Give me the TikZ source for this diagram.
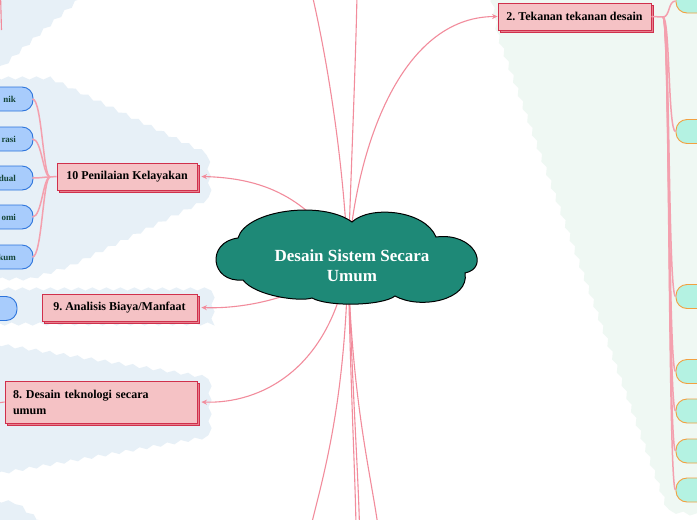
\documentclass[tikz,border=0pt]{standalone}
\usepackage{fontspec}
\setmainfont{Liberation Serif}
\usetikzlibrary{arrows.meta,decorations.pathmorphing,shadows}
\definecolor{bgblue}{HTML}{E7F0F7}
\definecolor{bggreen}{HTML}{EFF8F3}
\definecolor{linkpink}{HTML}{F28C9C}
\definecolor{branchpink}{HTML}{F4A0AE}
\definecolor{boxfill}{HTML}{F5C2C5}
\definecolor{boxdraw}{HTML}{D0304C}
\definecolor{boxshadow}{HTML}{E6808E}
\definecolor{cloudfill}{HTML}{1E8977}
\definecolor{pillblue}{HTML}{A8CCFC}
\definecolor{pillbluedraw}{HTML}{2C74DC}
\definecolor{pillteal}{HTML}{B4F2E2}
\definecolor{pilltealdraw}{HTML}{F2A040}
\definecolor{pilltext}{HTML}{16463A}
\tikzset{
  wavy/.style={decorate, decoration={snake, amplitude=1.6pt, segment length=14pt}},
  topicbox/.style={draw=boxdraw, fill=boxfill, line width=0.9pt,
    font=\fontsize{12}{16}\selectfont\bfseries\frenchspacing, text=black, inner sep=0pt,
    general shadow={fill=boxshadow, draw=boxdraw, shadow xshift=2.5pt, shadow yshift=-2.5pt}},
  bluepill/.style={draw=pillbluedraw, fill=pillblue, line width=0.9pt, rounded corners=11pt,
    minimum height=24pt, font=\fontsize{9}{11}\selectfont\bfseries, text=pilltext},
  tealpill/.style={draw=pilltealdraw, fill=pillteal, line width=0.9pt, rounded corners=11pt,
    minimum height=24pt, minimum width=64pt},
  link/.style={draw=linkpink, line width=1.1pt},
  arrowlink/.style={link, -{Stealth[length=5.5pt,width=5pt]}},
  branch/.style={draw=branchpink, line width=1.5pt},
}
\frenchspacing
\begin{document}
\begin{tikzpicture}[x=1pt,y=-1pt]
\useasboundingbox (0,0) rectangle (697,520);
\clip (0,0) rectangle (697,520);
\fill[white] (0,0) rectangle (697,520);

% background regions
\fill[bgblue, wavy] (-10,-10) -- (82,-10) -- (0,62) -- (-10,62) -- cycle;
\fill[bgblue, wavy] (-10,78) -- (45,78) -- (205,155) -- (207,198) -- (67,266) -- (30,278) -- (-10,278) -- cycle;
\fill[bgblue, wavy] (-10,289) -- (205,289) -- (205,328) -- (-10,328) -- cycle;
\fill[bgblue, wavy] (-10,343) -- (205,377) -- (205,432) -- (0,468) -- (-10,468) -- cycle;
\fill[bgblue, wavy] (-10,500) -- (10,502) -- (40,525) -- (-10,525) -- cycle;
\fill[bggreen, wavy] (490,-10) -- (497,30) -- (667,505) -- (710,510) -- (710,-10) -- cycle;

% main topic boxes
\node[topicbox, minimum width=153pt, minimum height=27pt] (n2) at (574.5,16.5) {2. Tekanan tekanan desain};
\node[topicbox, minimum width=140pt, minimum height=27pt] (n10) at (127,176.5) {10 Penilaian Kelayakan};
\node[topicbox, minimum width=155pt, minimum height=27pt] (n9) at (119.5,307.5) {9. Analisis Biaya/Manfaat};
\node[topicbox, minimum height=42pt, text width=176pt, inner xsep=8pt, align=left] (n8) at (101,402) {8. Desain teknologi secara\\umum};

% left pills (children of 10)
\foreach \nm/\yy/\tx in {a/99/nik, b/139/rasi, c/178/dual, d/217/omi, e/257/kum}{
  \node[bluepill, minimum width=63pt, text width=29pt, inner xsep=17pt, align=right] (l\nm) at (1.5,\yy) {\tx};
}
\node[bluepill, minimum width=47pt] (l9) at (-6.5,308.5) {};

% right pills (children of 2)
\foreach \nm/\yy in {a/1, b/131.5, c/296.5, d/371.5, e/411, f/451, g/490}{
  \node[tealpill] (r\nm) at (708,\yy) {};
}

% hub coordinates and free ends
\coordinate (hub) at (348,262);
\coordinate (up1) at (312,-6);
\coordinate (up2) at (357,-6);
\coordinate (dn1) at (311,526);
\coordinate (dn2) at (356,526);
\coordinate (dn3) at (359.5,526);
\coordinate (dn4) at (378,526);
\coordinate (tlA) at (0.5,-6);
\coordinate (tlB) at (1.5,30);
\coordinate (n8out) at (-10,404);
\coordinate (j2) at (663,17);
\coordinate (j10) at (50,177);

% connectors from central topic
\draw[arrowlink] (hub) .. controls (355,150) and (400,17) .. (n2.west);
\draw[arrowlink] (hub) .. controls (310,195) and (260,178) .. ([xshift=4pt]n10.east);
\draw[arrowlink] (hub) .. controls (300,300) and (240,309) .. ([xshift=4pt]n9.east);
\draw[arrowlink] (hub) .. controls (330,370) and (260,404) .. ([xshift=4pt]n8.east);
\draw[link] (hub) .. controls (343,150) and (325,50) .. (up1);
\draw[link] (hub) .. controls (352,150) and (356,50) .. (up2);
\draw[link] (hub) .. controls (345,400) and (325,470) .. (dn1);
\draw[link] (hub) .. controls (351,400) and (355,470) .. (dn2);
\draw[link] (hub) .. controls (353,400) and (358,470) .. (dn3);
\draw[link] (hub) .. controls (352,400) and (370,470) .. (dn4);
\draw[link] (tlA) -- (tlB);
\draw[link] (n8.west) -- (n8out);

% branches of node 10
\draw[branch] (n10.west) -- (j10);
\foreach \nm in {a,b,c,d,e}{
  \draw[branch] (j10) .. controls (43,177) and (42,0 |- l\nm.east) .. ([xshift=-1pt]l\nm.east);
}
% branches of node 2
\draw[branch] (n2.east) -- (j2);
\foreach \nm in {a,b,c,d,e,f,g}{
  \draw[branch] (j2) .. controls (670,17) and (668,0 |- r\nm.west) .. (r\nm.west);
}

% central cloud
\fill[cloudfill, draw=black, line width=1pt]
  (243,280) .. controls (210,283) and (206,242) .. (238,238)
  .. controls (246,210) and (322,200) .. (352,222)
  .. controls (370,205) and (425,210) .. (436,237)
  .. controls (475,232) and (490,268) .. (465,273)
  .. controls (470,300) and (420,310) .. (395,296)
  .. controls (382,306) and (328,307) .. (312,298)
  .. controls (300,302) and (255,296) .. (243,280) -- cycle;
\node[text=white, font=\fontsize{17}{20}\selectfont\bfseries, align=center] (center) at (352,266) {Desain Sistem Secara\\Umum};
\end{tikzpicture}
\end{document}
